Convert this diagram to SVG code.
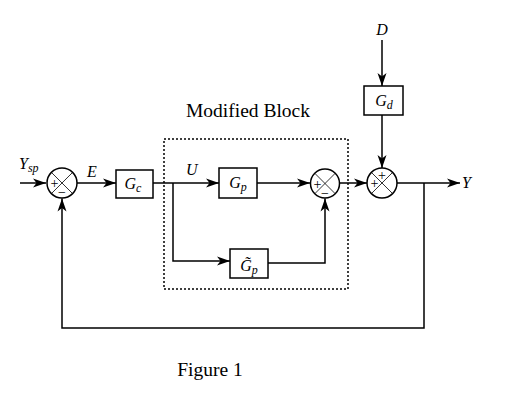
<svg xmlns="http://www.w3.org/2000/svg" width="530" height="412" viewBox="0 0 530 412">
<defs>
<marker id="arr" markerUnits="userSpaceOnUse" markerWidth="14" markerHeight="10" refX="13" refY="5" orient="auto">
<path d="M0,0.5 L13,5 L0,9.5 L3.5,5 z" fill="#000"/>
</marker>
<style>
.ln{fill:none;stroke:#000;stroke-width:1.5}
.bx{fill:#fff;stroke:#000;stroke-width:1.5}
.x{stroke:#000;stroke-width:0.8}
.t{font-family:"Liberation Serif","Times New Roman",serif;fill:#000}
.i{font-style:italic}
.s{font-family:"Liberation Serif","Times New Roman",serif;font-size:14px;fill:#000}
</style>
</defs>
<rect width="530" height="412" fill="#fff"/>
<g id="connectors">
<line class="ln" x1="20" y1="183" x2="46" y2="183" marker-end="url(#arr)"/>
<line class="ln" x1="77" y1="183" x2="116" y2="183" marker-end="url(#arr)"/>
<polyline class="ln" points="153,183 219,183" marker-end="url(#arr)"/>
<polyline class="ln" points="173,183 173,261 230,261" marker-end="url(#arr)"/>
<line class="ln" x1="257" y1="183" x2="310" y2="183" marker-end="url(#arr)"/>
<polyline class="ln" points="268,263 325,263 325,198.5" marker-end="url(#arr)"/>
<line class="ln" x1="340" y1="183" x2="367" y2="183" marker-end="url(#arr)"/>
<line class="ln" x1="382" y1="40" x2="382" y2="86" marker-end="url(#arr)"/>
<line class="ln" x1="382" y1="115" x2="382" y2="168" marker-end="url(#arr)"/>
<line class="ln" x1="397" y1="183" x2="460" y2="183" marker-end="url(#arr)"/>
<polyline class="ln" points="424,183 424,328 62,328 62,198.5" marker-end="url(#arr)"/>
</g>
<g id="modified-block">
<rect x="164" y="139" width="184" height="150" fill="none" stroke="#000" stroke-width="1.5" stroke-dasharray="2,2"/>
<text class="t" x="248" y="117" font-size="19.5" text-anchor="middle">Modified Block</text>
</g>
<g id="sum1">
<circle class="bx" cx="62" cy="183" r="15"/>
<line class="x" x1="51.4" y1="172.4" x2="72.6" y2="193.6"/>
<line class="x" x1="72.6" y1="172.4" x2="51.4" y2="193.6"/>
<text class="s" x="54.5" y="188" text-anchor="middle">+</text>
<text class="s" x="62" y="197" text-anchor="middle">−</text>
</g>
<g id="Gc">
<rect class="bx" x="116" y="170" width="37" height="28"/>
<text class="t i" x="133" y="189" font-size="16" text-anchor="middle">G<tspan font-size="12" dy="3">c</tspan></text>
</g>
<g id="Gp">
<rect class="bx" x="219" y="168" width="38" height="30"/>
<text class="t i" x="238" y="188" font-size="16" text-anchor="middle">G<tspan font-size="12" dy="3">p</tspan></text>
</g>
<g id="Gp-tilde">
<rect class="bx" x="230" y="249" width="38" height="29"/>
<text class="t i" x="249" y="271" font-size="16" text-anchor="middle">G&#x303;<tspan font-size="12" dy="3">p</tspan></text>
</g>
<g id="sum2">
<circle class="bx" cx="325" cy="183.5" r="14.5"/>
<line class="x" x1="314.7" y1="173.2" x2="335.3" y2="193.8"/>
<line class="x" x1="335.3" y1="173.2" x2="314.7" y2="193.8"/>
<text class="s" x="317.5" y="188.5" text-anchor="middle">+</text>
<text class="s" x="325" y="197.5" text-anchor="middle">−</text>
</g>
<g id="Gd">
<rect class="bx" x="364" y="86" width="39" height="29"/>
<text class="t i" x="384" y="106" font-size="16" text-anchor="middle">G<tspan font-size="12" dy="3">d</tspan></text>
</g>
<g id="sum3">
<circle class="bx" cx="382" cy="183" r="15"/>
<line class="x" x1="371.4" y1="172.4" x2="392.6" y2="193.6"/>
<line class="x" x1="392.6" y1="172.4" x2="371.4" y2="193.6"/>
<text class="s" x="382" y="180" text-anchor="middle">+</text>
<text class="s" x="374.5" y="188" text-anchor="middle">+</text>
</g>
<g id="labels">
<text class="t i" x="19" y="169" font-size="16">Y<tspan font-size="12" dy="3">sp</tspan></text>
<text class="t i" x="87" y="177" font-size="16">E</text>
<text class="t i" x="186" y="175" font-size="16">U</text>
<text class="t i" x="382" y="35" font-size="16" text-anchor="middle">D</text>
<text class="t i" x="462" y="188" font-size="16">Y</text>
<text class="t" x="210" y="376" font-size="19.5" text-anchor="middle">Figure 1</text>
</g>
</svg>
